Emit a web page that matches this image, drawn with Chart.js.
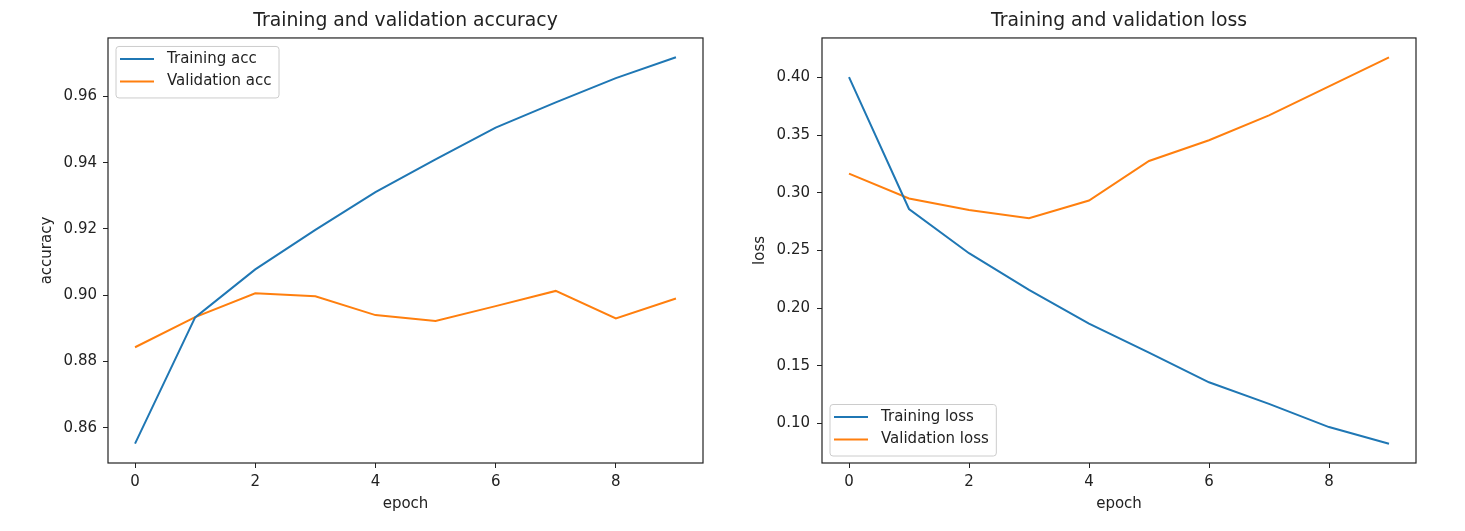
<!DOCTYPE html>
<html>
<head>
<meta charset="utf-8">
<script src="https://cdn.jsdelivr.net/npm/chart.js@4.4.1/dist/chart.umd.min.js"></script>
<style>
  body { margin: 0; background: #fff; }
  .panel { position: absolute; top: 0; height: 531px; }
  #accBox { left: 0; width: 730px; }
  #lossBox { left: 730px; width: 735px; }
</style>
</head>
<body>
<div class="panel" id="accBox"><canvas id="accuracy"></canvas></div>
<div class="panel" id="lossBox"><canvas id="loss"></canvas></div>
<script>
const epochs = [0, 1, 2, 3, 4, 5, 6, 7, 8, 9];
const xTicks = [0, 2, 4, 6, 8];

const trainAcc = [0.8552, 0.8933, 0.9078, 0.9197, 0.9311, 0.9410, 0.9506, 0.9582, 0.9655, 0.9718];
const valAcc   = [0.8843, 0.8934, 0.9006, 0.8997, 0.8940, 0.8922, 0.8967, 0.9013, 0.8930, 0.8990];
const accTicks = [0.86, 0.88, 0.90, 0.92, 0.94, 0.96];

const trainLoss = [0.4003, 0.2860, 0.2477, 0.2160, 0.1866, 0.1615, 0.1358, 0.1171, 0.0970, 0.0826];
const valLoss   = [0.3167, 0.2951, 0.2851, 0.2780, 0.2934, 0.3276, 0.3456, 0.3672, 0.3922, 0.4175];
const lossTicks = [0.10, 0.15, 0.20, 0.25, 0.30, 0.35, 0.40];

Chart.defaults.font.family = '"DejaVu Sans", sans-serif';
Chart.defaults.color = '#222';

// matplotlib style box around the axes plus an in-axes legend with a frame
const boxLegend = {
  id: 'boxLegend',
  afterDatasetsDraw(chart, args, opts) {
    const ctx = chart.ctx, a = chart.chartArea;
    ctx.save();
    ctx.strokeStyle = '#222';
    ctx.lineWidth = 1.2;
    ctx.strokeRect(a.left, a.top, a.right - a.left, a.bottom - a.top);

    ctx.font = '15px "DejaVu Sans"';
    const sets = chart.data.datasets;
    const textW = Math.max(...sets.map(d => ctx.measureText(d.label).width));
    const w = 51 + textW + 7.5, h = 51.5;
    const x = a.left + 8;
    const y = opts.corner === 'lower' ? a.bottom - 7 - h : a.top + 8.5;
    ctx.beginPath();
    if (ctx.roundRect) ctx.roundRect(x, y, w, h, 3); else ctx.rect(x, y, w, h);
    ctx.fillStyle = 'rgba(255,255,255,0.8)';
    ctx.fill();
    ctx.strokeStyle = '#cccccc';
    ctx.lineWidth = 1;
    ctx.stroke();
    sets.forEach((d, i) => {
      const ry = y + 12.5 + i * 22.5;
      ctx.strokeStyle = d.borderColor;
      ctx.lineWidth = 2;
      ctx.beginPath();
      ctx.moveTo(x + 4, ry);
      ctx.lineTo(x + 38, ry);
      ctx.stroke();
      ctx.fillStyle = '#222';
      ctx.textBaseline = 'middle';
      ctx.textAlign = 'left';
      ctx.fillText(d.label, x + 51, ry);
    });
    ctx.restore();
  }
};

function makeChart(id, train, val, names, yTicks, yTitle, title, corner, yWidth, padRight, yTitlePad, tickPad) {
  const all = train.concat(val);
  const lo = Math.min(...all), hi = Math.max(...all), m = (hi - lo) * 0.05;
  return new Chart(document.getElementById(id), {
    type: 'line',
    data: {
      labels: epochs,
      datasets: [
        { label: names[0], data: train, borderColor: '#1f77b4', backgroundColor: '#1f77b4',
          borderWidth: 2, pointRadius: 0, tension: 0, fill: false },
        { label: names[1], data: val, borderColor: '#ff7f0e', backgroundColor: '#ff7f0e',
          borderWidth: 2, pointRadius: 0, tension: 0, fill: false }
      ]
    },
    options: {
      responsive: true,
      maintainAspectRatio: false,
      animation: false,
      events: [],
      layout: { padding: { left: 0, right: padRight, top: 0, bottom: 0 } },
      plugins: {
        legend: { display: false },
        tooltip: { enabled: false },
        title: {
          display: true,
          text: title,
          fullSize: false,
          font: { size: 18.8, weight: 'normal' },
          padding: { top: 10, bottom: 5.4 }
        },
        boxLegend: { corner: corner }
      },
      scales: {
        x: {
          type: 'linear',
          min: -0.45,
          max: 9.45,
          afterBuildTicks: s => { s.ticks = xTicks.map(v => ({ value: v })); },
          afterFit: s => { s.height = 68; },
          ticks: { font: { size: 15 }, padding: 5, callback: v => String(v) },
          grid: { drawOnChartArea: false, drawTicks: true, tickLength: 5, tickColor: '#222', lineWidth: 1 },
          border: { display: false },
          title: { display: true, text: 'epoch', font: { size: 15 }, padding: { top: 0, bottom: 18 } }
        },
        y: {
          type: 'linear',
          min: lo - m,
          max: hi + m,
          afterBuildTicks: s => { s.ticks = yTicks.map(v => ({ value: v })); },
          afterFit: s => { s.width = yWidth; },
          ticks: { font: { size: 15 }, padding: tickPad, callback: v => v.toFixed(2) },
          grid: { drawOnChartArea: false, drawTicks: true, tickLength: 5, tickColor: '#222', lineWidth: 1 },
          border: { display: false },
          title: { display: true, text: yTitle, font: { size: 15 }, padding: { top: yTitlePad, bottom: 0 } }
        }
      }
    },
    plugins: [boxLegend]
  });
}

makeChart('accuracy', trainAcc, valAcc, ['Training acc', 'Validation acc'], accTicks,
  'accuracy', 'Training and validation accuracy', 'upper', 108, 27, 38, 6);
makeChart('loss', trainLoss, valLoss, ['Training loss', 'Validation loss'], lossTicks,
  'loss', 'Training and validation loss', 'lower', 92, 49, 21.5, 7);
</script>
</body>
</html>
